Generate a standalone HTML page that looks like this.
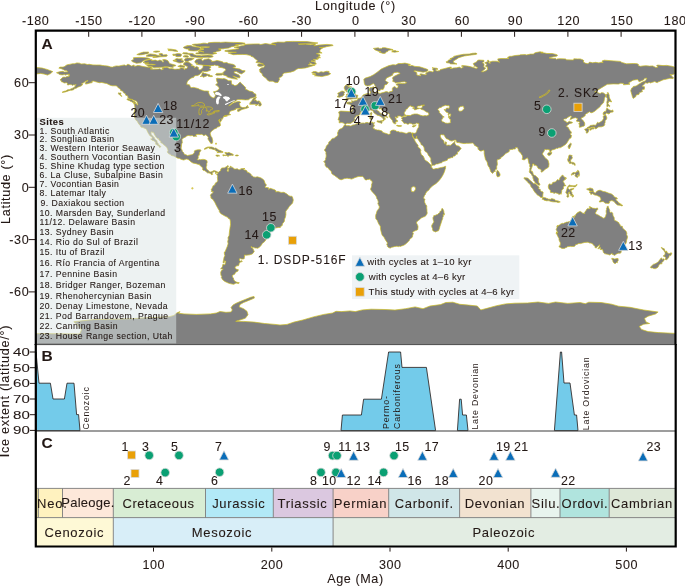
<!DOCTYPE html>
<html lang="en">
<head>
<meta charset="utf-8">
<title>Figure</title>
<style>
html,body{margin:0;padding:0;background:#fff;}
body{width:685px;height:586px;overflow:hidden;}
text{stroke:#231815;stroke-width:0.08px;}
svg{display:block;font-family:"Liberation Sans",sans-serif;fill:#231815;}
.land{fill:#808080;stroke:#ccbd22;stroke-width:0.7;stroke-linejoin:round;}
.water{fill:#fff;stroke:#ccbd22;stroke-width:0.7;stroke-linejoin:round;}
.lk{fill:none;stroke:#ccb926;stroke-width:0.75;stroke-linejoin:round;}
.blob{fill:#fff;stroke:none;}
.tk{stroke:#231815;stroke-width:1;fill:none;}
.ax{font-size:12.6px;letter-spacing:0.55px;}
.mk{font-size:12.4px;letter-spacing:0.4px;}
.big{font-size:12px;letter-spacing:0.9px;}
.site{font-size:8.7px;letter-spacing:0.43px;}
.lg{font-size:9.6px;letter-spacing:0.35px;}
.per{font-size:13px;letter-spacing:0.7px;text-anchor:middle;}
.rot{font-size:8.8px;letter-spacing:0.8px;stroke-width:0;}
.pl{font-size:15.5px;font-weight:bold;}
.tri{fill:#0a6db8;stroke:#d9d9d9;stroke-width:0.8;stroke-linejoin:miter;}
.cir{fill:#0aa073;stroke:#d9d9d9;stroke-width:0.8;}
.sq{fill:#e9a007;stroke:#d9d9d9;stroke-width:0.8;}
.ice{fill:#73cbea;stroke:#231815;stroke-width:0.8;stroke-linejoin:miter;}
.bd{stroke:#7a7a7a;stroke-width:0.9;fill:none;}
</style>
</head>
<body>
<svg width="685" height="586" viewBox="0 0 685 586">
<defs>
<clipPath id="mapclip"><rect x="35.8" y="30.6" width="639.6" height="314"/></clipPath>
</defs>
<rect x="0" y="0" width="685" height="586" fill="#fff"/>
<!-- map -->
<g clip-path="url(#mapclip)">
<path class="land" d="M56.5,72.7L59.4,71.8L62.9,71.3L64.3,72.0L67.9,71.8L66.5,70.6L64.3,70.3L63.1,69.4L61.3,68.7L58.8,68.1L59.9,67.1L63.1,67.1L65.2,66.3L65.8,65.4L67.5,64.7L69.3,64.4L72.7,63.7L74.3,63.8L76.9,62.9L79.6,63.2L81.0,64.0L84.7,63.8L87.4,64.5L89.2,64.3L92.9,64.9L96.3,65.0L100.0,65.0L102.7,65.5L104.6,65.7L108.0,66.1L110.8,67.0L112.6,67.1L114.2,66.4L116.3,65.9L119.0,66.1L121.7,65.4L124.5,64.9L125.7,65.6L127.0,65.2L127.5,64.3L128.8,64.5L131.6,66.1L134.1,64.9L134.3,66.3L136.4,65.9L137.1,65.5L139.2,65.6L142.1,66.3L146.2,67.0L148.6,67.3L150.4,67.1L152.7,68.0L150.2,68.9L153.4,69.2L158.2,69.1L159.8,68.7L161.6,69.8L163.6,68.9L161.8,68.2L162.8,67.6L165.2,67.5L166.6,67.3L168.0,67.7L169.8,68.7L171.7,68.5L174.9,69.3L177.6,69.1L180.2,69.1L179.9,68.0L181.5,67.7L184.3,68.4L184.3,69.9L185.4,68.5L186.8,68.5L187.7,66.8L185.7,65.7L183.6,65.0L183.8,63.1L185.9,61.9L188.2,62.1L190.0,63.0L192.5,64.9L190.9,65.7L194.3,66.1L194.3,67.8L196.6,66.4L198.7,67.7L198.2,68.9L199.9,70.1L201.7,68.9L203.0,67.3L203.1,65.4L205.6,65.6L208.3,65.7L210.6,66.6L210.8,67.5L209.3,68.5L210.6,69.4L210.4,70.3L207.0,71.5L204.6,71.7L202.6,71.1L202.1,72.0L200.5,73.6L199.9,74.3L197.8,75.5L195.3,75.7L193.9,76.4L193.7,77.4L191.8,77.8L189.5,79.2L187.7,81.1L187.0,82.5L186.8,84.6L189.5,84.8L190.2,86.5L191.1,87.7L193.6,87.4L196.9,88.2L198.7,88.8L199.9,89.6L202.1,90.2L204.0,90.9L206.9,91.0L208.8,91.2L208.6,92.6L209.2,94.3L210.4,96.3L213.1,98.0L214.5,97.5L215.4,95.6L214.5,92.9L213.3,91.9L216.1,91.2L218.0,90.0L219.1,88.8L218.9,87.5L217.7,86.1L215.6,84.8L217.7,82.9L216.8,81.3L216.3,78.6L217.5,78.2L220.5,78.6L222.3,78.8L223.9,78.5L225.5,79.0L227.6,80.0L228.2,80.7L231.4,80.7L231.4,82.3L231.9,84.4L233.5,84.8L234.9,85.8L237.4,84.8L239.2,82.8L240.2,82.1L241.7,83.7L244.0,85.8L245.9,87.9L245.2,89.1L247.5,90.0L249.1,91.0L251.9,91.6L253.2,92.1L253.9,93.5L255.1,93.8L255.9,94.3L256.0,96.4L254.8,97.0L253.5,97.7L250.5,98.2L248.4,99.8L245.4,99.9L241.5,99.6L238.8,99.6L237.0,99.8L235.6,101.0L233.3,101.7L230.8,104.1L228.7,105.7L230.1,105.3L233.1,103.1L236.9,101.7L239.3,101.5L240.9,102.4L239.3,103.4L239.9,105.3L240.4,106.7L242.7,107.6L245.7,107.3L247.5,105.3L247.7,106.6L248.8,107.3L246.6,108.3L242.7,109.3L240.9,110.0L238.8,111.4L237.6,111.3L237.4,109.7L240.6,108.3L237.8,108.3L235.8,108.6L236.0,109.2L234.2,110.0L232.2,110.6L230.5,111.1L229.6,112.1L229.2,113.5L229.8,114.4L230.7,114.6L229.6,114.9L227.3,115.3L225.5,115.4L224.1,116.0L226.7,115.6L227.3,116.0L224.8,116.5L223.5,116.5L223.0,118.1L222.0,119.5L220.9,118.4L221.6,119.6L221.6,120.3L221.1,121.0L220.2,122.4L220.0,122.2L220.5,121.2L219.6,120.5L219.5,119.1L219.1,119.8L219.5,120.9L218.2,120.7L219.5,121.2L219.5,122.8L220.0,122.9L220.2,123.6L220.5,125.4L219.3,126.6L217.5,127.1L216.4,128.2L214.5,128.9L212.4,130.6L211.3,131.5L210.6,132.5L210.2,133.8L210.6,135.0L211.1,136.4L212.0,137.6L212.7,140.4L212.7,142.3L212.2,143.4L210.8,143.4L209.9,142.1L209.0,140.7L208.1,139.3L207.9,138.6L208.3,137.6L207.8,136.5L206.3,135.2L205.6,134.8L203.8,135.7L202.6,134.7L201.5,134.3L199.6,134.5L198.0,134.3L195.9,134.6L196.2,135.9L196.6,136.4L195.5,136.2L193.6,136.5L192.3,135.5L190.7,135.8L188.4,135.5L186.8,135.9L185.2,137.2L183.4,137.9L182.0,139.5L182.2,141.6L182.5,142.1L181.8,143.7L181.5,144.9L181.3,147.4L181.1,148.2L182.0,150.0L182.4,151.4L183.6,152.6L184.0,153.6L184.7,154.5L186.6,154.9L187.3,155.7L188.9,155.2L191.6,154.7L192.7,154.3L193.7,153.6L194.3,152.6L194.4,151.2L194.6,150.7L195.9,150.2L197.8,149.8L200.5,149.8L200.8,150.2L200.8,150.9L199.8,151.9L199.4,153.1L199.4,154.2L199.1,155.4L198.2,155.0L198.5,155.7L198.2,156.6L198.3,157.7L197.8,158.9L197.1,159.6L198.3,159.9L199.4,159.6L200.7,159.7L202.2,159.4L204.0,159.4L205.1,159.7L206.9,160.6L207.3,161.1L207.0,161.7L207.2,162.4L206.7,163.6L206.7,165.7L206.3,166.5L206.2,167.9L206.9,169.2L207.6,169.9L208.5,170.6L209.0,171.6L210.4,172.0L211.3,171.8L213.1,171.1L213.6,170.6L214.7,170.7L216.3,171.3L217.7,172.1L217.3,172.5L216.1,172.8L215.7,173.3L216.1,174.2L215.7,172.7L214.5,171.6L213.6,171.8L213.3,172.3L212.2,172.8L212.0,173.2L212.9,174.2L211.3,174.7L210.9,173.7L209.9,173.2L207.9,172.8L207.6,173.0L206.5,172.0L204.7,170.6L203.8,170.6L202.8,170.0L202.6,169.2L202.8,167.9L201.4,166.7L200.1,165.5L199.2,164.8L199.6,164.1L198.9,164.4L197.8,164.3L196.4,163.8L195.0,163.4L193.0,163.1L191.2,162.0L189.1,160.1L188.1,159.4L186.8,159.0L185.8,159.2L184.4,159.8L183.4,160.0L180.9,159.2L179.4,158.3L177.9,158.2L176.0,157.3L174.4,156.5L174.0,156.1L173.0,155.9L171.2,155.4L170.5,154.6L168.5,153.6L167.6,152.5L167.3,151.7L167.8,151.5L167.6,151.0L168.0,150.5L168.0,150.0L167.5,149.1L167.3,148.4L166.8,147.5L165.2,145.8L163.4,144.6L162.5,143.4L160.9,142.7L160.7,142.3L160.9,141.3L160.0,140.7L158.9,139.9L158.6,138.6L157.5,138.6L156.5,137.6L155.7,136.7L155.6,136.2L154.7,135.0L154.0,133.6L154.1,132.9L152.7,132.2L152.2,132.4L151.1,131.8L151.0,132.5L151.1,133.4L151.3,134.6L153.8,137.2L154.1,137.8L154.4,137.8L154.7,138.8L155.2,139.3L155.7,139.9L156.8,140.7L157.3,142.5L157.9,143.2L158.4,144.0L158.4,144.9L159.3,144.9L160.0,145.8L160.7,146.5L160.7,146.8L159.9,147.5L159.6,147.5L159.1,146.5L158.0,145.4L156.6,144.6L155.7,144.2L155.8,142.8L155.6,142.0L154.7,141.4L153.4,140.6L153.3,140.9L152.8,140.4L151.7,140.0L150.7,139.0L150.8,138.8L151.5,139.0L152.2,138.3L152.2,137.4L151.0,136.2L149.9,135.7L149.2,134.6L148.5,133.6L147.8,132.2L147.0,130.6L146.7,129.7L145.6,128.7L144.7,128.5L144.6,128.0L143.5,127.8L143.0,127.4L141.2,127.2L140.8,127.0L140.7,125.9L138.9,124.2L137.5,121.8L137.5,121.4L136.7,120.9L135.3,119.4L135.0,117.9L134.1,117.0L134.4,115.6L134.4,114.1L133.9,112.7L134.6,111.1L135.0,107.9L134.6,105.5L134.1,104.1L133.6,103.2L133.7,102.9L136.4,103.5L137.3,105.2L137.8,104.6L137.5,103.2L136.9,101.8L136.6,101.3L133.2,100.1L132.0,99.4L128.8,98.7L127.7,97.1L128.0,96.1L125.7,95.2L125.4,93.8L123.3,92.6L123.3,91.7L122.2,91.0L120.6,90.5L120.2,88.9L117.9,87.5L116.9,86.0L115.3,85.8L112.4,85.8L110.3,85.3L106.6,83.5L105.0,83.2L101.8,82.5L99.4,82.7L95.9,81.8L93.8,81.1L91.8,81.4L92.2,82.7L91.1,82.8L89.2,83.2L87.6,83.7L85.6,84.1L85.3,83.2L86.2,81.4L88.1,80.9L87.6,80.4L85.3,81.4L84.0,82.6L81.5,83.8L82.8,84.6L81.2,85.9L79.2,86.7L77.5,87.2L76.9,87.9L74.3,88.8L73.7,89.7L71.6,90.3L70.4,90.3L68.8,90.7L67.0,91.4L65.5,91.9L62.4,92.4L62.2,92.1L64.2,91.3L65.8,90.9L67.7,89.8L69.8,89.6L70.8,88.9L73.2,87.9L73.6,87.5L75.0,86.8L75.2,85.6L76.2,84.6L74.1,85.1L73.6,84.8L72.6,85.5L71.4,84.6L70.9,85.1L70.2,84.3L68.4,84.9L67.4,84.9L67.3,83.9L67.5,83.4L66.5,82.7L64.2,83.0L62.6,82.1L61.4,81.8L61.4,80.8L60.1,80.0L60.8,79.0L62.2,78.1L62.7,77.2L64.2,77.1L65.5,77.3L66.8,76.6L68.2,76.6L69.5,76.0L69.2,75.3L68.2,75.0L69.5,74.3L68.4,74.3L66.6,74.6L66.0,75.2L64.7,74.6L62.1,74.9L59.5,74.5L58.7,73.8L56.5,72.7Z M217.7,172.1L218.6,172.3L219.8,171.1L220.5,170.9L220.9,168.8L222.0,167.9L223.0,167.9L224.6,167.8L226.7,166.4L227.5,165.7L228.2,165.7L228.7,166.2L228.3,166.7L227.2,167.1L227.8,168.2L227.8,169.2L227.0,170.0L227.6,171.5L228.3,171.4L228.8,170.1L228.3,169.5L228.2,168.2L230.3,167.4L230.1,166.6L230.8,166.0L231.4,167.2L232.6,167.4L233.8,168.3L233.8,168.9L235.4,169.0L237.4,168.8L238.3,169.5L239.7,169.7L240.8,169.2L240.8,168.8L242.9,168.6L245.0,168.6L243.6,169.2L244.1,169.9L245.6,170.1L247.0,170.9L247.2,172.3L248.1,172.3L248.8,172.7L250.0,173.3L251.1,174.5L251.2,175.4L251.8,175.4L252.8,176.3L253.5,176.9L255.6,177.2L257.2,176.8L259.1,177.3L261.0,177.9L263.0,179.3L263.8,180.0L264.3,180.9L265.3,184.0L266.2,184.3L266.2,185.5L264.9,187.0L265.4,187.4L268.6,187.7L268.6,189.5L270.1,188.3L272.2,188.9L275.2,190.0L276.1,191.0L275.7,192.0L277.9,191.5L281.2,192.4L283.9,192.3L286.6,193.8L288.9,195.7L290.2,196.2L291.7,196.3L292.4,196.8L293.0,199.0L293.3,200.0L292.6,203.0L291.7,204.1L289.1,206.6L288.0,208.6L286.7,210.0L285.8,211.4L285.9,214.7L285.4,217.3L284.6,219.1L284.3,221.5L282.5,223.7L282.2,225.6L280.8,226.3L280.4,227.4L278.5,227.4L275.6,228.0L274.4,228.8L272.4,229.3L270.3,230.7L268.8,232.4L268.6,233.7L268.9,234.7L268.5,236.5L268.1,237.3L266.9,238.3L264.9,241.3L263.3,242.7L262.1,243.5L261.4,245.2L260.2,246.2L259.4,247.3L257.5,248.3L256.1,247.9L255.1,248.1L253.5,247.3L252.3,247.4L251.2,246.4L251.1,247.3L253.4,248.9L253.1,250.0L254.2,250.8L254.1,251.7L252.4,253.9L249.8,254.8L246.3,255.2L244.3,255.0L244.7,256.0L244.3,257.4L244.6,258.2L243.5,258.9L241.7,259.1L240.1,258.5L239.3,258.9L239.6,260.7L240.8,261.2L241.7,260.6L242.3,261.5L240.6,262.1L239.2,263.2L238.9,264.9L238.5,265.8L236.9,265.8L235.4,266.7L234.9,268.0L236.7,269.3L238.4,269.7L237.8,271.2L235.7,272.2L234.6,274.3L232.9,275.0L232.2,275.8L232.8,277.6L233.9,278.6L233.5,278.9L233.8,279.6L234.6,281.1L236.9,282.3L239.3,282.7L238.6,283.6L236.0,283.0L233.9,284.3L232.1,284.1L228.9,283.3L226.6,282.3L224.8,281.4L222.4,279.5L221.9,278.4L221.3,277.3L221.8,276.3L220.9,275.2L220.7,272.2L221.5,270.5L223.3,269.2L220.6,268.7L222.3,267.1L222.9,264.2L224.9,264.8L225.8,261.2L224.6,260.8L224.1,262.9L223.0,262.7L223.5,260.2L224.1,257.0L224.9,255.8L224.4,254.1L224.3,252.1L225.0,252.0L226.1,249.2L227.3,246.4L228.1,243.8L227.7,241.2L228.2,239.8L228.0,237.6L229.1,235.5L229.4,232.1L229.9,228.5L230.5,224.6L230.4,221.8L230.0,219.3L228.2,218.3L228.1,217.6L224.5,215.8L221.3,213.9L220.0,212.8L219.3,211.4L219.5,210.9L218.0,208.6L216.3,205.4L214.6,201.9L213.9,201.1L213.3,199.8L211.9,198.7L210.7,198.0L211.2,197.2L210.4,195.6L210.9,194.3L212.4,193.2L213.3,191.9L212.9,191.2L212.2,192.0L211.2,191.2L211.6,190.7L211.2,189.1L211.9,188.9L212.2,187.8L212.9,186.7L212.7,186.0L213.7,185.6L214.9,184.9L214.7,184.4L215.3,184.2L215.3,183.3L215.7,182.7L216.6,182.6L217.3,181.5L218.0,180.6L217.3,180.2L217.7,179.2L217.3,177.6L217.7,177.1L217.4,175.6L216.7,174.7L216.9,173.9L217.5,174.0L217.8,173.5L217.4,172.4Z M344.4,124.9L345.7,125.0L346.7,125.7L348.5,125.6L350.3,125.9L351.0,126.0L352.8,125.0L354.7,124.7L355.8,124.0L357.5,123.5L360.5,123.2L363.4,123.0L364.3,123.3L366.0,122.6L367.9,122.6L368.6,123.0L369.8,122.9L371.8,122.2L373.0,122.4L373.0,123.3L374.5,122.6L374.6,122.9L373.7,123.8L373.7,124.6L374.3,125.0L374.1,126.6L372.9,127.5L373.3,128.4L374.2,128.4L374.6,129.2L375.3,129.5L377.4,130.1L378.1,130.0L379.6,130.3L382.0,131.0L382.8,132.5L384.4,132.9L386.9,133.7L388.8,134.5L389.6,134.1L390.5,133.3L390.1,131.9L390.6,131.1L391.9,130.3L393.1,130.0L395.5,130.4L396.2,131.2L397.3,131.5L399.1,131.7L399.6,132.2L401.9,132.2L403.6,132.7L405.4,133.2L406.2,133.5L407.6,132.9L408.3,132.4L409.9,132.3L411.1,132.5L411.6,133.4L412.0,132.8L412.8,133.1L412.4,134.6L412.3,135.2L412.9,137.2L414.1,139.0L415.4,141.8L416.1,142.7L416.7,143.6L418.2,145.6L417.9,145.9L418.0,147.0L420.0,148.6L420.3,148.9L420.9,150.6L420.5,151.0L420.8,152.8L421.4,154.8L422.1,155.3L423.1,155.9L424.1,157.9L424.6,159.5L425.6,160.4L428.0,162.0L429.0,163.0L429.9,164.0L430.5,164.6L431.4,165.2L431.8,165.7L431.7,166.4L430.7,166.8L431.5,167.3L432.1,167.6L432.4,168.4L433.2,169.1L434.1,169.1L435.8,168.6L437.7,168.4L439.3,167.9L440.1,167.8L440.8,167.5L441.8,167.4L443.2,167.1L444.1,166.9L444.9,166.3L445.6,166.3L445.7,166.8L445.5,167.8L445.5,168.7L445.1,169.4L444.6,171.3L443.8,173.2L442.7,175.4L441.1,178.0L439.6,179.9L437.5,182.3L435.8,183.7L433.1,185.5L431.5,186.8L429.5,188.9L429.1,189.8L428.7,190.2L427.5,190.9L427.0,191.7L426.4,191.8L426.1,193.0L425.5,193.7L425.2,194.9L424.5,195.5L423.7,197.6L423.8,198.6L424.9,199.2L425.0,199.7L424.5,200.7L424.6,201.3L424.5,202.1L425.1,203.2L425.8,204.9L426.5,205.3L426.8,206.1L426.7,207.8L426.9,209.3L427.0,212.1L427.3,212.9L426.8,214.2L426.1,215.4L424.9,216.5L423.3,217.1L421.3,218.0L419.3,219.8L418.6,220.2L417.4,221.4L416.7,221.8L416.5,223.1L417.3,224.4L417.7,225.4L417.7,225.9L418.0,225.8L418.0,227.5L417.7,228.4L418.1,228.7L417.8,229.4L417.1,230.0L415.6,230.6L413.5,231.5L412.7,232.2L412.9,232.9L413.3,233.0L413.2,233.9L412.7,235.2L412.5,236.7L412.1,237.4L410.8,238.3L409.7,239.5L409.3,240.4L408.3,241.6L406.3,243.4L405.0,244.5L403.6,245.3L401.8,245.9L400.9,246.0L400.7,246.5L399.6,246.2L398.7,246.6L396.8,246.2L395.7,246.5L395.0,246.4L393.1,247.0L391.6,247.3L390.5,248.0L389.7,248.0L389.0,247.4L388.4,247.4L387.6,246.6L387.3,246.4L387.3,245.3L386.7,244.2L387.3,243.9L387.2,242.5L386.1,240.9L385.2,239.4L383.9,237.1L382.6,235.8L381.9,234.5L381.5,232.9L381.1,231.6L380.5,228.9L380.4,226.8L380.2,225.9L379.5,225.1L378.6,223.7L377.7,221.6L377.3,220.5L375.8,218.8L375.7,217.5L375.6,216.4L375.8,214.8L376.4,213.3L376.5,212.5L377.1,210.9L377.5,210.2L378.5,209.1L379.1,208.3L379.3,207.0L379.2,206.0L378.7,205.4L378.2,204.3L377.8,203.3L377.9,202.9L378.4,202.2L377.9,200.6L377.5,199.4L376.6,198.3L376.8,197.9L376.5,197.4L376.0,196.1L374.6,194.2L372.8,192.5L371.6,191.0L370.5,189.2L370.6,188.7L371.0,188.1L371.4,186.8L371.7,185.5L371.4,185.3L372.0,183.3L372.3,181.9L371.6,180.8L370.8,180.5L370.4,179.7L370.0,179.5L370.0,179.0L368.1,179.6L367.5,179.5L366.8,179.9L365.4,179.9L364.4,178.8L363.8,177.5L362.6,176.4L361.2,176.4L359.7,176.4L358.2,176.6L356.8,177.0L354.0,178.0L353.0,178.6L351.4,179.1L349.8,178.6L349.0,178.6L347.8,178.3L346.6,178.3L344.6,178.6L343.3,179.1L341.6,179.7L340.8,179.7L338.9,178.9L337.3,177.6L335.8,176.6L334.6,175.5L334.1,175.3L332.8,174.6L331.9,173.7L331.6,173.1L331.4,171.8L330.6,170.7L329.9,170.1L329.0,169.5L328.8,168.7L328.0,168.0L327.1,167.3L326.3,167.2L325.9,166.4L325.3,165.7L325.0,164.4L325.2,163.6L324.5,162.2L323.6,161.6L324.4,161.3L325.3,160.1L325.7,159.2L325.5,158.2L326.0,157.4L326.2,155.7L326.0,154.0L325.8,153.1L326.0,152.3L325.5,151.4L324.6,150.7L324.7,149.9L324.8,149.1L325.5,148.7L326.0,147.7L325.9,147.2L326.5,145.9L327.5,144.8L328.1,144.5L328.6,143.5L328.6,142.6L329.3,141.5L330.5,140.9L331.6,139.1L332.5,138.4L334.2,138.2L335.6,137.0L336.4,136.5L337.9,135.1L337.5,132.9L338.2,131.4L338.4,130.5L339.5,129.3L341.3,128.5L342.6,127.8L343.8,126.0Z M442.8,209.0L443.3,209.8L443.8,210.9L444.0,213.0L444.5,213.9L444.3,214.7L444.0,215.2L443.4,214.2L443.1,214.7L443.4,216.0L443.2,216.7L442.8,217.1L442.7,218.6L441.9,220.6L441.1,223.1L440.0,226.3L439.3,228.8L438.5,230.8L437.0,231.2L435.5,231.9L434.5,231.5L433.1,230.9L432.6,230.0L432.5,228.4L431.8,227.0L431.7,225.8L432.0,224.5L432.8,224.2L432.8,223.6L433.7,222.3L433.8,221.2L433.4,220.4L433.1,219.3L432.9,217.7L433.6,216.7L433.8,215.6L434.7,215.5L435.7,215.2L436.3,214.8L437.1,214.8L438.1,213.8L439.6,212.7L440.1,211.9L439.9,211.1L440.6,211.3L441.6,210.1L441.6,209.1L442.2,208.3Z M345.0,124.5L343.7,123.1L341.8,122.6L339.1,122.8L339.3,120.3L338.0,119.8L339.3,116.1L339.3,114.2L338.6,112.1L340.7,111.1L345.1,111.3L348.7,111.5L351.7,111.6L352.6,109.5L352.9,107.1L351.0,105.2L349.8,104.3L346.9,103.7L346.7,102.5L349.2,102.1L352.1,102.5L351.5,100.6L353.1,101.2L355.3,100.6L357.6,99.9L357.7,98.5L359.3,98.2L361.5,97.7L362.0,96.6L363.2,94.9L365.7,94.0L367.5,93.6L369.3,94.0L370.5,93.1L370.2,91.6L369.3,90.5L369.3,88.8L370.0,87.7L371.6,87.5L373.7,86.7L373.2,88.1L374.2,88.9L372.6,90.5L372.5,91.6L374.4,92.4L374.6,93.1L377.1,92.4L379.0,92.9L379.9,93.5L381.2,93.0L384.0,92.3L386.1,91.6L387.9,91.9L388.6,92.4L390.2,91.6L392.7,91.0L392.3,89.6L392.4,88.2L393.2,87.2L394.8,86.6L396.3,87.9L397.7,87.9L398.0,86.5L398.2,85.5L396.4,85.1L396.3,84.1L398.6,83.5L400.9,83.4L402.6,83.6L404.6,83.5L406.6,82.7L404.8,81.8L401.6,82.0L398.4,82.6L395.5,82.9L394.5,82.0L392.7,81.4L393.1,79.7L392.4,78.1L393.1,77.1L394.7,76.0L398.7,74.1L400.0,73.8L399.8,73.1L397.3,72.2L394.3,72.7L392.5,73.9L392.9,75.0L390.0,76.4L386.6,77.9L385.3,80.4L386.5,81.6L388.3,82.5L386.7,84.5L384.7,84.9L384.0,87.9L383.1,89.5L381.0,89.3L379.9,90.7L377.8,90.7L377.3,89.1L375.8,87.2L374.4,84.6L373.4,83.5L369.8,85.6L367.3,86.0L365.0,85.1L364.3,83.2L363.8,79.2L365.4,78.1L370.1,76.6L373.5,74.8L376.9,72.4L381.2,69.1L384.0,67.7L389.0,65.6L392.9,64.7L395.7,64.9L398.4,63.5L401.8,63.5L405.0,63.1L410.5,64.4L408.1,64.9L410.1,65.9L411.9,65.4L414.9,66.4L419.7,66.8L426.4,68.9L427.9,69.6L427.9,70.8L425.9,71.7L423.1,72.2L415.1,70.8L413.8,71.1L416.7,72.4L416.8,73.2L416.8,75.0L419.2,75.5L420.6,75.9L420.8,75.2L419.7,74.3L420.9,73.8L425.2,74.8L426.6,74.3L425.5,73.1L429.6,71.3L431.2,71.5L432.8,72.0L433.9,70.8L432.5,69.8L433.4,68.8L432.0,67.7L437.0,68.3L438.0,69.2L435.8,69.4L435.8,70.5L437.2,71.0L439.9,70.6L440.3,69.6L444.0,68.7L450.2,67.1L451.6,67.3L449.9,68.4L452.0,68.5L453.2,68.0L456.6,67.8L459.3,67.1L461.2,68.2L463.4,67.1L461.4,66.1L462.4,65.5L467.6,66.1L470.1,66.6L476.5,68.5L477.7,67.7L476.0,66.8L475.8,66.3L473.6,66.2L474.4,65.4L473.3,64.0L473.3,63.5L476.5,61.9L477.7,60.3L479.0,60.0L483.8,60.3L484.1,61.4L482.3,62.8L483.6,63.3L484.1,64.5L483.8,67.0L485.7,68.0L484.8,69.2L481.5,71.7L483.4,71.8L484.1,71.3L486.1,70.8L486.6,69.9L488.1,69.1L487.1,68.2L487.8,67.0L485.9,66.8L485.5,65.9L487.0,64.2L484.7,62.8L487.8,61.6L487.5,60.3L488.4,60.2L489.3,61.2L488.6,63.0L490.5,63.2L489.6,61.9L492.6,61.2L496.3,61.2L499.6,62.2L498.0,60.7L497.8,58.9L500.9,58.5L505.2,58.6L509.0,58.4L507.5,57.4L509.7,56.3L511.6,56.3L515.2,55.5L519.8,55.1L520.3,54.8L525.1,54.6L526.5,54.9L530.4,54.1L533.8,54.1L534.2,53.2L535.9,52.5L540.1,51.8L543.2,52.3L540.7,52.8L544.8,53.0L546.9,53.5L552.1,53.5L556.0,54.4L557.4,55.0L557.1,56.0L555.1,56.5L550.4,57.4L549.1,57.9L551.2,58.2L553.9,58.6L555.5,58.2L556.4,59.5L557.2,58.9L560.1,58.7L565.8,58.9L566.1,59.8L573.6,60.0L573.8,58.8L577.5,58.9L580.3,58.9L583.2,60.0L584.0,61.0L583.0,61.7L585.1,63.1L588.0,63.8L589.6,62.1L592.6,62.8L595.6,62.3L599.0,62.9L600.2,62.4L603.2,62.6L601.9,61.0L604.3,60.2L620.3,61.4L621.8,62.4L626.5,63.8L633.6,63.5L637.1,63.7L638.5,64.4L638.4,65.7L640.5,66.3L643.0,65.9L646.1,65.7L649.4,66.1L652.7,65.9L655.9,67.5L658.1,67.0L656.6,65.8L657.4,65.0L663.0,65.6L666.8,65.4L671.9,66.3L674.4,67.0L674.4,73.9L672.1,74.8L669.8,74.6L671.4,75.5L672.4,77.0L673.3,77.4L673.5,78.1L673.0,78.6L669.8,78.3L664.8,79.5L663.2,79.8L660.5,81.0L657.9,82.1L657.2,82.8L654.7,81.6L650.1,83.0L649.2,82.3L647.6,83.2L645.1,82.8L644.6,84.1L642.4,85.8L642.5,86.5L644.6,86.8L644.3,89.3L642.6,89.5L641.9,90.9L642.6,91.6L639.6,92.6L638.9,94.5L636.2,94.9L635.7,96.8L633.2,98.4L632.5,97.1L631.8,94.5L630.7,90.7L631.6,88.2L633.2,87.2L633.2,86.5L636.1,86.0L639.2,83.9L642.3,82.1L645.5,80.7L646.9,78.2L644.7,78.3L643.6,79.9L639.1,81.8L637.7,79.5L633.0,80.2L628.6,83.0L630.0,84.2L626.1,84.6L623.5,84.8L623.5,83.5L620.8,83.2L618.5,84.1L613.2,83.9L607.3,84.3L601.6,87.7L594.7,91.9L597.5,92.1L598.4,93.1L600.2,93.5L601.3,92.7L603.2,92.8L605.8,94.7L605.9,96.3L604.5,98.0L604.3,100.0L603.5,102.8L600.8,105.3L600.2,106.6L594.3,111.6L591.9,112.7L590.8,112.7L589.7,111.8L587.2,113.1L587.1,113.7L586.4,113.5L585.6,114.2L585.1,114.7L585.1,116.0L584.2,116.3L583.2,117.2L581.2,117.9L581.2,118.8L581.7,119.2L582.7,120.0L584.2,122.1L584.7,123.1L584.7,125.2L584.1,126.1L582.5,126.4L581.0,127.1L579.4,127.3L579.3,126.4L579.5,125.0L578.7,123.3L580.1,122.9L578.9,121.5L577.3,121.6L576.2,120.9L577.1,119.9L577.5,118.6L576.2,118.1L575.5,117.7L573.0,118.2L571.7,119.0L569.8,119.5L570.7,118.7L570.3,118.0L571.8,116.8L570.8,115.9L569.3,116.5L567.3,117.7L566.2,118.8L564.4,118.9L563.5,119.7L564.5,120.9L565.9,121.2L566.0,122.0L567.4,122.5L569.4,121.3L570.9,121.9L572.1,122.0L572.4,122.9L569.9,123.4L569.0,124.3L567.3,125.2L566.4,126.4L568.3,127.4L569.0,129.1L570.1,130.7L571.3,132.0L571.3,133.3L570.1,133.8L570.6,134.7L571.6,135.3L571.3,136.7L570.9,138.1L569.9,138.2L568.6,140.1L567.2,142.4L565.5,144.5L563.1,146.1L560.6,147.6L558.6,147.8L557.5,148.5L556.9,148.0L555.9,148.8L553.4,149.7L551.6,150.0L550.9,151.8L550.0,151.9L549.5,150.7L549.9,150.0L547.5,149.4L546.7,149.7L544.9,149.3L544.1,151.2L542.8,152.9L542.4,154.1L543.8,155.9L545.5,158.2L547.1,159.3L548.2,160.7L549.0,163.9L548.7,166.9L547.3,168.1L545.2,169.2L543.8,170.7L541.6,172.3L540.9,171.2L541.4,170.0L540.1,169.0L538.6,168.8L537.9,167.9L537.0,166.0L535.4,165.2L533.9,165.3L534.1,163.9L532.6,163.9L532.4,165.8L531.5,168.4L530.9,169.9L531.0,171.2L532.2,171.2L532.9,172.8L533.2,174.3L534.2,175.3L535.3,175.5L536.2,176.5L537.7,177.7L538.4,178.8L538.5,180.0L538.3,180.8L538.6,182.4L539.2,182.9L539.9,184.5L539.9,185.1L538.6,185.2L537.0,183.9L534.9,182.5L534.7,181.6L533.6,180.4L533.4,179.0L532.8,178.0L533.0,176.8L532.6,176.0L531.8,175.4L531.5,174.5L530.6,173.5L529.7,172.7L529.3,171.7L529.8,170.0L529.7,168.7L530.2,167.3L529.6,166.3L529.8,164.4L529.0,163.5L528.5,161.4L528.1,159.2L527.4,157.8L526.2,158.6L524.2,159.9L523.2,159.7L522.1,159.3L522.7,157.2L522.3,155.5L520.9,153.5L521.1,152.9L520.1,152.7L518.9,151.3L518.3,150.3L518.3,149.5L517.9,148.6L517.2,147.6L515.5,147.5L515.7,148.3L515.1,149.2L514.4,148.9L513.6,149.0L512.9,148.8L512.7,149.5L511.5,149.5L509.3,149.8L509.4,151.1L508.4,152.2L505.9,153.3L503.9,155.4L502.6,156.5L500.8,157.6L500.8,158.4L499.9,158.9L498.3,159.5L497.5,159.6L497.0,160.9L497.3,163.2L497.4,164.6L496.7,166.3L496.7,169.2L495.7,169.3L494.9,170.6L495.5,171.2L493.8,171.7L493.2,172.9L492.5,173.4L490.8,171.8L490.0,169.3L489.4,167.6L488.7,166.8L487.8,165.1L487.4,162.9L487.0,161.8L485.4,159.4L484.7,156.0L484.2,153.8L484.2,151.7L483.8,150.0L481.2,151.1L480.0,150.9L477.7,148.8L478.5,148.1L478.0,147.5L475.9,146.0L474.6,145.5L474.1,144.3L472.7,143.0L469.4,143.3L466.6,143.3L464.1,143.6L460.7,143.0L458.8,142.6L456.8,142.4L456.0,140.3L455.2,140.0L453.8,140.3L452.0,141.1L449.8,140.5L448.1,139.2L446.3,138.7L445.2,137.1L443.9,134.7L442.9,135.0L441.8,134.4L441.1,135.1L440.0,135.0L440.4,135.8L440.3,136.2L440.8,137.5L441.5,139.0L442.4,139.4L442.7,140.0L443.9,140.8L444.0,141.5L443.8,142.1L444.1,142.6L444.6,143.1L444.8,143.7L445.1,144.1L445.0,142.9L445.4,141.9L445.9,141.8L446.5,142.3L446.5,143.3L446.1,144.3L446.5,145.0L446.8,145.4L448.2,145.1L449.7,145.2L450.8,145.2L452.0,144.0L453.3,142.9L454.4,141.9L454.9,141.3L455.2,141.4L455.0,142.1L454.8,142.5L455.0,143.8L455.8,145.0L456.8,145.7L458.1,145.9L459.1,146.2L459.9,147.2L460.4,147.8L461.1,148.0L461.1,148.4L460.4,149.4L460.1,149.9L459.4,150.5L458.7,151.7L457.9,151.6L457.5,152.0L457.3,152.9L457.5,154.0L457.3,154.3L456.5,154.3L455.4,154.9L455.2,155.8L454.8,156.1L453.7,156.1L453.0,156.6L453.0,157.3L452.2,157.7L451.2,157.6L450.0,158.2L449.2,158.3L447.9,158.7L447.5,159.5L447.5,160.1L445.7,160.8L442.9,161.6L441.3,162.9L440.5,163.0L440.0,162.9L438.9,163.6L437.8,163.9L436.3,164.0L435.9,164.1L435.5,164.6L435.0,164.7L434.8,165.2L433.9,165.1L433.3,165.3L432.1,165.3L431.6,164.2L431.7,163.3L431.4,162.8L431.0,161.5L430.5,160.8L430.9,160.7L430.7,159.9L430.9,159.6L430.8,158.8L430.6,158.1L430.1,157.5L429.9,156.8L429.0,156.2L428.1,154.7L427.6,153.3L426.3,152.1L425.5,151.8L424.4,150.2L424.2,148.9L424.2,147.9L423.2,146.0L422.4,145.3L421.4,144.9L420.8,143.9L420.9,143.6L420.5,142.7L419.9,142.3L419.2,141.0L418.2,139.5L417.3,138.4L416.4,138.4L416.7,137.4L416.7,136.8L417.0,136.1L416.9,135.9L416.4,136.5L416.0,137.9L415.5,138.8L415.1,139.1L414.5,138.5L413.7,137.7L412.4,135.2L412.4,134.6L412.8,133.1L414.8,133.3L415.7,132.9L416.2,132.3L416.6,131.4L417.0,130.0L417.2,129.6L417.9,128.2L418.8,126.9L418.6,125.5L419.1,124.8L418.4,124.0L419.1,123.4L418.0,123.5L416.5,123.1L415.3,124.1L412.6,124.3L411.2,123.4L409.3,123.3L408.8,124.1L407.6,124.3L405.9,123.3L404.0,123.4L402.9,121.6L401.6,120.7L402.5,119.3L401.4,118.5L403.3,116.8L406.1,116.7L406.8,115.4L410.2,115.6L412.3,114.5L414.4,114.0L417.3,114.0L420.4,115.2L423.0,115.9L425.0,115.6L426.6,115.8L428.7,114.9L428.9,114.1L428.5,112.9L427.5,112.3L426.5,112.1L425.8,111.6L423.6,110.1L421.5,109.4L420.0,108.4L421.3,108.1L422.8,106.7L421.8,106.0L424.4,105.3L424.3,104.9L422.7,105.2L421.3,105.3L420.1,105.9L418.5,105.9L417.0,106.6L417.1,107.7L417.9,108.1L419.7,108.0L419.4,108.6L417.5,108.9L415.0,109.9L414.1,109.6L414.5,108.8L412.5,108.2L412.8,107.9L414.5,107.3L414.0,106.9L411.2,106.5L411.1,105.8L409.5,106.1L408.8,107.0L407.4,108.3L407.5,108.8L406.6,109.1L406.1,109.0L405.6,111.1L404.7,111.8L404.0,113.0L404.6,114.0L404.8,114.7L406.4,115.3L406.0,115.7L403.9,115.8L403.2,116.3L401.7,117.3L401.1,116.5L401.2,116.1L400.1,116.1L399.2,115.9L397.0,116.3L398.2,117.3L397.3,117.6L396.3,117.6L395.4,116.7L395.1,117.1L395.5,118.1L396.3,119.0L395.7,119.3L396.7,120.1L397.6,120.6L397.6,121.6L395.9,121.2L396.5,122.1L395.3,122.2L396.0,123.8L394.8,123.8L393.4,123.1L392.7,121.7L392.4,120.5L391.7,119.7L390.8,118.7L390.7,118.2L390.4,118.1L390.3,117.7L389.4,117.1L389.2,116.3L389.3,115.1L389.6,114.5L389.3,114.3L388.4,113.6L387.6,113.2L386.0,112.6L385.0,111.9L383.3,111.4L381.8,110.1L382.2,110.0L381.4,109.3L381.3,108.7L380.2,108.4L379.7,109.2L379.1,108.6L379.2,108.0L379.6,107.8L378.2,107.5L376.8,108.2L376.9,109.0L376.7,109.5L377.2,110.4L378.9,111.3L379.8,112.7L381.8,114.1L383.2,114.1L383.6,114.5L383.1,114.9L384.7,115.5L386.0,116.0L387.5,116.9L387.7,117.2L387.4,117.9L386.4,117.1L384.8,116.8L384.1,117.9L385.4,118.6L385.2,119.5L384.4,119.6L383.5,121.0L382.7,121.2L382.7,120.7L383.1,119.7L383.5,119.4L382.8,118.3L382.3,117.5L381.5,117.2L381.0,116.5L379.9,116.2L379.1,115.5L377.8,115.4L376.4,114.6L374.8,113.4L373.6,112.4L373.0,110.7L372.1,110.5L370.7,109.9L369.9,110.2L368.8,111.0L368.1,111.1L366.5,112.1L363.0,111.6L360.4,112.2L360.2,113.2L360.3,114.2L358.6,115.4L356.3,115.8L356.2,116.4L355.1,117.3L354.4,118.7L355.1,119.7L354.1,120.5L353.7,121.7L352.3,122.0L351.1,123.3L348.8,123.4L347.1,123.3L346.0,124.0L345.4,124.6Z M609.7,211.3L610.4,212.7L611.5,212.0L612.1,212.7L612.9,213.4L612.8,214.2L613.1,215.7L613.4,216.6L613.9,216.8L614.3,218.3L614.2,219.2L614.7,220.4L616.7,221.3L617.9,222.1L619.1,222.9L618.9,223.3L619.9,224.4L620.6,226.3L621.3,225.9L622.0,226.6L622.4,226.4L622.7,228.2L624.0,229.3L624.8,230.0L626.2,231.4L626.7,232.8L626.8,233.8L626.6,234.8L627.5,236.3L627.4,237.9L627.1,238.7L626.6,240.2L626.6,241.2L626.3,242.5L625.5,244.1L624.2,244.9L623.5,246.3L622.9,247.1L622.4,248.6L621.7,249.5L621.3,250.8L621.1,252.0L621.1,252.6L620.1,253.2L618.1,253.2L616.5,254.0L615.7,254.6L614.6,255.4L613.1,254.6L612.1,254.3L612.3,253.4L611.4,253.7L609.8,255.0L608.3,254.5L607.3,254.2L606.3,254.1L604.5,253.6L603.4,252.5L603.1,251.2L602.6,249.6L601.8,249.6L600.1,249.4L600.6,248.6L600.2,247.3L599.4,248.5L597.8,248.8L598.7,247.8L599.0,246.8L599.7,246.0L599.5,244.7L598.1,246.2L597.0,246.8L596.3,248.1L594.9,247.4L595.0,246.5L593.8,245.2L592.9,244.6L593.2,244.2L591.0,243.1L589.7,243.1L588.0,242.2L584.8,242.4L582.5,243.0L580.5,243.6L578.8,243.5L576.9,244.4L575.4,244.8L575.1,245.7L574.4,246.4L572.9,246.4L571.8,246.6L570.2,246.3L568.9,246.5L567.7,246.6L566.7,247.5L566.1,247.4L565.3,247.9L564.4,248.4L563.1,248.4L561.9,248.4L560.0,247.3L559.1,246.9L559.1,245.9L560.0,245.7L560.3,245.3L560.2,244.7L560.4,243.5L560.2,242.4L559.3,240.7L559.0,239.7L559.1,238.7L558.4,237.5L558.4,237.0L557.6,236.3L557.3,235.0L556.3,233.6L556.1,232.9L556.9,233.6L556.3,232.0L557.1,232.5L557.7,233.2L557.6,232.3L556.8,230.9L556.6,230.3L556.2,229.8L556.4,228.8L556.7,228.4L557.0,227.5L556.8,226.5L557.5,225.2L557.7,226.6L558.4,225.4L559.8,224.8L560.7,224.0L562.1,223.4L562.9,223.3L563.4,223.5L564.8,222.8L565.8,222.6L566.1,222.2L566.6,222.1L567.6,222.1L569.4,221.6L570.4,220.9L570.8,219.9L571.9,219.0L572.0,218.3L572.0,217.4L573.2,215.9L574.0,217.4L574.8,217.1L574.1,216.3L574.7,215.4L575.5,215.8L575.7,214.5L576.7,213.6L577.1,212.9L578.0,212.6L578.0,212.1L578.8,212.3L578.8,211.9L579.6,211.6L580.4,211.4L581.7,212.2L582.7,213.2L583.9,213.3L585.0,213.4L584.6,212.4L585.5,211.1L586.3,210.6L586.0,210.2L586.8,209.2L587.8,208.5L588.7,208.8L590.2,208.4L590.2,207.5L588.9,207.0L589.8,206.7L591.0,207.1L592.0,207.9L593.4,208.3L594.0,208.1L595.1,208.7L596.1,208.2L596.8,208.3L597.2,208.0L598.0,208.8L597.5,209.8L596.9,210.5L596.2,210.5L596.4,211.2L595.9,212.1L595.3,213.0L595.4,213.5L596.8,214.4L598.2,215.0L599.1,215.6L600.4,216.6L600.9,216.6L601.8,217.1L602.1,217.6L603.8,218.2L605.0,217.6L605.3,216.7L605.7,215.9L605.9,214.9L606.4,213.5L606.2,212.7L606.3,212.2L606.1,211.2L606.3,209.9L606.7,209.5L606.4,208.9L606.8,208.0L607.2,207.1L607.2,206.6L607.9,205.9L608.4,206.8L608.5,207.8L608.9,208.1L609.0,208.8L609.6,209.7L609.8,210.7Z M613.0,258.4L614.7,259.0L615.7,258.8L617.0,258.5L618.1,258.6L618.2,260.7L617.6,261.3L617.4,262.7L616.8,262.2L615.6,263.4L614.1,263.3L613.0,261.8L612.8,260.6L611.8,259.1L611.8,258.3Z M662.0,258.7L662.4,259.4L663.7,258.7L664.2,259.4L664.2,260.1L663.5,260.9L662.4,262.2L661.5,262.9L662.1,263.8L660.8,263.8L659.2,264.5L658.8,265.6L657.8,267.4L656.3,268.2L655.5,268.6L653.8,268.6L652.7,268.0L650.8,267.9L650.5,267.3L651.4,266.0L653.6,264.2L654.8,263.9L656.1,263.3L657.6,262.3L658.7,261.4L659.4,260.1L660.1,259.7L660.4,258.7L661.6,257.9Z M668.9,257.2L668.2,258.1L667.3,259.3L666.0,260.0L665.6,259.6L664.9,259.3L665.9,257.9L665.3,256.9L663.4,256.2L663.5,255.6L664.8,255.0L665.1,253.6L665.0,252.5L664.3,251.3L664.3,251.0L663.5,250.3L662.1,248.8L661.3,247.5L662.0,247.4L663.0,248.4L664.3,248.8L664.8,250.4L666.1,252.2L666.2,251.0L667.0,251.5L667.2,252.8L668.6,253.4L669.9,253.5L670.9,252.8L671.8,253.0L671.3,254.6L670.8,255.6L669.4,255.6L669.0,256.1L669.1,256.9Z M593.0,189.3L593.5,192.1L595.3,193.2L596.8,191.3L598.9,190.3L600.4,190.3L601.9,190.9L603.3,191.5L605.2,191.8L608.3,193.0L611.5,194.0L612.8,194.9L613.7,195.8L614.0,196.8L617.0,197.9L617.4,198.8L615.8,199.0L616.2,200.2L617.7,201.3L618.9,203.2L619.9,203.1L619.9,203.9L621.2,204.2L620.7,204.5L622.6,205.2L622.4,205.8L621.2,205.9L620.8,205.4L619.2,205.2L617.4,205.0L616.1,203.9L615.1,202.9L614.1,201.4L611.8,200.6L610.3,201.1L609.2,201.7L609.5,203.0L608.1,203.6L607.1,203.3L605.2,203.2L603.6,201.8L601.9,201.4L601.4,201.9L599.2,202.0L599.9,200.6L601.0,200.1L600.6,198.2L599.7,196.7L596.3,195.2L594.8,195.1L592.1,193.5L591.6,194.3L590.9,194.5L590.5,193.8L590.5,193.1L589.2,192.2L591.1,191.6L592.4,191.6L592.2,191.2L589.6,191.2L588.9,190.1L587.3,189.8L586.6,188.9L589.0,188.5L589.9,187.9L592.7,188.7Z M564.1,180.1L563.1,181.7L564.4,183.3L564.1,184.1L566.1,185.7L564.0,185.9L563.4,187.1L563.5,188.7L561.8,189.9L561.7,191.6L561.1,194.3L560.8,193.7L558.8,194.5L558.1,193.4L556.8,193.3L555.9,192.7L553.8,193.4L553.2,192.5L552.0,192.6L550.5,192.4L550.3,190.1L549.4,189.6L548.5,188.1L548.3,186.6L548.5,185.0L549.5,183.8L550.9,184.4L552.2,184.1L552.6,182.6L553.3,182.3L555.5,181.9L556.7,180.5L557.6,179.4L558.4,180.3L558.8,179.7L559.6,179.8L559.8,177.8L561.2,176.6L562.1,175.2L562.8,175.2L563.7,176.1L563.8,176.9L565.0,177.3L566.4,177.9L566.3,178.5L565.1,178.6L565.5,179.5Z M524.0,177.7L525.2,177.8L527.9,178.1L529.5,179.9L530.9,181.0L531.8,181.8L533.5,183.6L535.3,183.7L536.8,184.9L537.9,186.3L539.2,187.1L538.5,188.5L539.5,189.1L540.2,189.2L540.5,190.4L541.1,191.4L542.4,191.5L543.2,192.6L542.8,194.8L542.7,197.5L540.8,197.5L539.3,196.1L537.0,194.7L536.2,193.6L534.9,192.2L534.0,190.9L532.6,188.4L531.1,187.0L530.6,185.5L529.9,184.1L528.3,183.0L527.4,181.5L526.0,180.6L524.2,178.6Z M542.0,199.2L543.1,197.6L545.3,197.7L546.7,198.4L547.5,198.5L547.7,199.1L551.1,199.3L551.5,198.6L554.8,199.4L555.4,200.5L558.1,200.9L560.3,201.9L558.2,202.6L556.3,201.9L554.7,201.9L552.8,201.8L551.2,201.5L549.1,200.8L547.8,200.6L547.1,200.9L543.8,200.1L543.5,199.4Z M577.2,184.8L575.8,186.6L574.4,186.9L572.7,186.6L569.8,186.6L568.2,186.9L568.0,188.2L569.6,189.8L570.5,189.0L573.8,188.4L573.7,189.2L572.9,188.9L572.1,190.0L570.6,190.6L572.2,192.9L571.9,193.5L573.5,195.5L573.5,196.6L572.6,197.1L571.9,196.5L572.7,195.1L571.0,195.8L570.5,195.3L570.8,194.6L569.5,193.6L569.6,191.9L568.5,192.4L568.6,194.5L568.7,196.9L567.5,197.2L566.8,196.7L567.3,195.1L567.0,193.4L566.3,193.4L565.7,192.2L566.4,191.0L566.7,189.7L567.6,187.0L568.0,186.3L569.5,185.0L570.9,185.5L573.1,185.8L575.1,185.7L576.9,184.4Z M570.2,155.0L571.3,155.5L571.9,155.1L572.1,155.5L571.8,156.2L572.4,157.5L571.9,158.9L570.8,159.5L570.6,160.9L571.0,162.3L571.9,162.5L572.7,162.3L574.9,163.3L574.8,164.2L575.3,164.6L575.1,165.4L573.8,164.6L573.1,163.7L572.6,164.3L571.5,163.3L569.9,163.5L569.0,163.1L569.1,162.4L569.7,162.0L569.1,161.6L568.9,162.2L568.0,161.2L567.8,160.4L567.7,158.8L568.4,159.3L568.6,156.6L569.2,155.0Z M579.2,172.6L579.4,173.8L579.5,174.8L578.9,176.4L578.2,174.6L577.4,175.5L578.0,176.7L577.5,177.6L575.4,176.6L574.9,175.3L575.4,174.5L574.3,173.6L573.8,174.4L572.9,174.3L571.6,175.3L571.3,174.8L572.0,173.3L573.1,172.8L574.1,172.1L574.7,172.9L576.1,172.5L576.3,171.7L577.6,171.6L577.5,170.3L578.9,171.1L579.1,172.0Z M571.1,144.8L570.0,147.6L569.2,149.0L568.3,147.5L568.1,146.2L569.1,144.5L570.6,143.2L571.4,143.7Z M550.8,154.7L549.2,155.6L547.8,155.0L547.7,153.5L548.6,152.7L550.5,152.2L551.6,152.3L551.9,152.9Z M500.1,174.2L499.8,176.0L499.1,176.5L497.5,176.9L496.7,175.5L496.4,173.0L497.2,170.2L498.4,171.1L499.2,172.4Z M605.1,122.5L604.5,123.9L604.8,124.8L603.8,126.0L601.6,126.8L598.5,126.9L595.9,128.9L594.7,128.3L594.7,127.0L591.6,127.3L589.5,128.2L587.4,128.2L589.2,129.5L588.0,132.5L586.9,133.2L586.0,132.5L586.4,130.9L585.3,130.4L584.6,129.2L586.3,128.7L587.2,127.6L589.0,126.7L590.3,125.5L593.8,125.0L595.7,125.3L597.6,122.2L598.8,123.1L601.4,121.3L602.4,120.6L603.5,118.5L603.2,116.6L604.0,115.4L605.8,115.1L606.8,117.6L606.7,119.0L605.1,120.7Z M593.9,127.7L594.1,128.3L593.1,129.4L592.4,128.8L591.5,129.2L591.0,130.3L589.8,129.8L589.9,128.9L590.8,127.9L591.8,128.1L592.6,127.4Z M610.3,110.3L611.6,110.6L612.8,109.9L613.2,111.9L610.6,112.3L609.0,114.1L606.3,112.9L605.3,114.8L603.3,114.8L603.1,113.1L604.0,111.7L605.8,111.6L606.4,109.2L606.9,107.9L609.0,109.7Z M609.9,98.8L611.7,101.9L609.0,101.3L607.9,103.8L609.7,105.6L609.6,106.8L608.3,105.8L607.1,107.1L606.8,105.7L607.0,104.0L606.8,102.1L607.2,100.8L607.3,98.4L606.2,96.7L606.4,94.3L608.0,93.5L607.3,92.7L608.1,92.5L608.6,93.6L609.2,95.3L609.2,97.0Z M349.6,85.0L347.7,86.9L349.5,86.7L351.4,86.7L351.0,88.1L349.4,89.7L351.2,89.8L352.9,92.0L354.1,92.3L355.2,94.3L355.7,95.0L357.9,95.3L357.7,96.4L356.8,96.9L357.5,97.9L355.9,98.8L353.5,98.8L350.5,99.2L349.6,98.9L348.5,99.7L346.8,99.5L345.6,100.2L344.6,99.8L347.2,98.0L348.8,97.6L346.1,97.3L345.5,96.6L347.4,96.1L346.4,95.1L346.8,94.0L349.4,94.2L349.7,93.2L348.5,92.0L346.3,91.7L345.9,91.3L346.5,90.5L345.9,90.0L345.0,90.8L344.9,89.1L344.0,88.3L344.6,86.5L346.0,85.0L347.4,85.2Z M343.9,93.4L344.2,94.6L342.8,96.2L339.7,97.2L337.2,96.9L338.6,95.1L337.7,93.3L340.1,92.0L341.5,91.2L343.0,91.1L344.9,92.2Z M329.1,71.4L328.7,72.5L330.7,73.7L328.4,75.1L323.3,76.2L321.8,76.6L319.5,76.3L314.5,75.8L316.2,75.0L312.4,74.1L315.5,73.8L315.4,73.3L311.7,72.9L312.9,71.7L315.6,71.5L318.4,72.7L321.1,71.7L323.3,72.2L326.2,71.3Z M271.9,43.2L277.8,42.1L284.1,42.2L286.3,41.6L292.6,41.4L306.8,41.6L317.9,43.0L314.6,43.7L307.8,43.8L298.3,43.9L299.2,44.3L305.4,44.1L310.8,44.7L314.3,44.1L315.7,44.8L313.8,45.8L318.3,45.1L326.9,44.4L332.2,44.8L333.2,45.5L326.0,46.8L325.0,47.2L319.3,47.5L323.4,47.6L321.4,48.8L319.9,50.0L320.0,51.9L322.1,53.0L319.3,53.1L316.4,53.7L319.7,54.6L320.1,56.1L318.2,56.2L320.5,57.7L316.6,57.9L318.6,58.6L318.1,59.2L315.5,59.4L313.1,59.4L315.3,60.6L315.3,61.4L311.8,60.7L310.9,61.2L313.3,61.6L315.6,62.7L316.3,64.1L313.1,64.4L311.7,63.7L309.6,62.7L310.2,63.9L308.1,64.8L312.8,64.9L315.2,65.0L310.5,66.5L305.6,67.9L300.5,68.5L298.5,68.5L296.7,69.2L294.2,71.0L290.4,72.2L289.2,72.3L286.8,72.7L284.2,73.1L282.7,74.2L282.7,75.4L281.8,76.6L278.9,78.0L279.6,79.3L278.8,80.8L277.9,82.5L275.4,82.6L272.8,81.2L269.2,81.2L267.5,80.2L266.3,78.5L263.3,76.3L262.4,75.2L262.1,73.6L259.7,72.0L260.3,70.7L259.1,70.1L260.9,68.1L263.5,67.4L264.2,66.7L264.6,65.3L262.6,66.0L261.6,66.2L260.0,66.5L257.8,65.9L257.7,64.7L258.4,63.8L260.1,63.8L263.7,64.2L260.6,63.1L259.0,62.5L257.3,62.8L255.8,62.3L257.8,60.7L256.7,60.1L255.3,58.9L253.2,57.0L250.9,56.3L250.9,55.6L246.1,54.6L242.4,54.4L237.6,54.5L233.3,54.7L231.3,54.1L228.2,53.0L232.8,52.5L236.4,52.3L228.8,51.9L224.8,51.2L225.0,50.5L231.8,49.7L238.3,48.8L239.0,48.2L234.2,47.6L235.7,46.9L241.9,45.7L244.4,45.5L243.7,44.7L247.9,44.2L253.4,44.0L258.8,43.9L260.8,44.5L265.5,43.5L269.7,44.2L272.2,44.3L275.9,44.9L271.7,43.9Z M201.3,59.7L202.7,60.8L204.3,59.4L208.8,58.7L211.8,60.5L211.6,61.6L215.1,61.1L216.8,60.4L220.7,61.3L223.1,62.1L223.4,62.9L226.7,62.5L228.5,63.6L232.8,64.3L234.4,65.0L236.0,66.6L232.8,67.5L237.0,68.6L239.8,69.0L242.3,70.6L245.1,70.7L244.6,71.9L241.4,73.9L239.3,73.2L236.5,71.5L234.2,71.7L234.0,72.7L235.8,73.7L238.2,74.6L239.0,75.0L240.1,76.7L239.5,78.0L237.3,77.5L232.8,76.1L235.3,77.6L237.2,78.7L237.4,79.3L232.6,78.6L228.8,77.6L226.7,76.7L227.3,76.2L224.7,75.4L222.1,74.5L222.1,75.0L217.0,75.3L215.5,74.7L216.6,73.4L220.0,73.4L223.6,73.2L223.0,72.5L223.7,71.7L225.9,70.0L225.4,69.2L224.8,68.6L222.1,67.7L218.5,67.2L219.6,66.7L217.7,65.6L216.1,65.5L214.7,64.9L213.8,65.4L210.6,65.7L204.1,65.3L200.4,64.8L197.5,64.5L196.0,63.9L197.9,63.1L195.3,63.1L194.8,61.3L196.1,59.8L198.0,59.0L202.6,58.6Z M150.4,59.4L152.2,59.8L151.4,60.6L155.3,60.1L157.8,60.9L159.8,60.1L161.4,60.6L162.9,62.3L163.8,61.6L162.5,59.8L164.1,59.6L165.8,59.8L167.8,60.6L168.9,62.3L169.5,63.5L172.4,64.3L175.7,65.2L175.5,66.0L172.6,66.1L173.7,66.8L173.1,67.4L169.9,67.1L166.8,66.7L164.8,66.8L161.4,67.3L156.9,67.6L153.8,67.8L152.8,66.9L150.4,66.5L148.8,66.7L146.6,65.3L147.8,65.1L150.5,64.8L153.0,64.9L155.4,64.6L151.9,64.2L148.1,64.3L145.6,64.3L144.7,63.6L148.8,62.9L146.1,63.0L143.0,62.5L144.5,61.2L145.7,60.5Z M132.5,61.7L136.4,63.3L141.0,62.8L142.3,61.4L145.1,60.0L150.2,59.1L148.1,58.1L145.4,57.7L139.2,57.4L133.4,57.7L133.7,59.3L131.4,60.7Z M209.5,57.5L207.2,57.3L202.1,57.5L198.4,57.6L195.6,57.3L190.9,56.8L190.2,55.8L190.0,55.0L188.2,54.2L184.6,54.0L182.5,53.4L183.2,52.7L186.8,52.8L188.8,53.4L192.3,53.4L193.8,54.0L193.4,54.6L195.5,55.0L196.6,55.4L199.0,55.5L201.6,55.7L204.4,55.3L208.0,55.1L210.9,55.3L212.8,55.9L213.2,56.6L212.1,57.1Z M188.7,56.5L187.8,57.2L185.2,57.1L183.0,56.6L184.0,55.8L186.5,55.4L188.1,56.0Z M233.3,42.4L238.1,42.5L241.9,42.7L245.1,43.2L245.0,43.7L240.7,44.4L236.4,44.8L234.8,45.2L238.7,45.1L234.5,46.2L231.6,46.7L228.6,48.1L224.9,48.4L223.8,48.8L218.4,49.0L220.8,49.2L219.6,49.5L221.1,50.3L219.4,51.0L216.6,51.4L215.8,52.1L213.3,52.6L213.6,53.0L216.6,53.0L216.6,53.4L211.9,54.4L207.3,54.0L202.1,54.2L199.4,54.0L196.1,53.9L195.8,53.1L199.1,52.7L198.2,51.4L199.3,51.3L204.1,52.1L201.6,51.0L198.8,50.6L200.2,49.9L203.4,49.5L203.9,48.9L201.3,48.2L200.6,47.3L205.4,47.4L206.8,47.6L209.6,47.0L205.6,46.8L199.4,46.9L196.3,46.3L194.8,45.6L192.7,45.1L192.3,44.5L195.0,44.1L197.0,44.1L200.5,43.8L203.1,43.2L205.3,43.2L207.3,43.7L208.6,42.8L210.9,42.5L214.1,42.3L219.6,42.3L220.5,42.4L225.6,42.1L229.5,42.3Z M200.4,48.4L202.6,48.9L200.1,49.5L196.9,50.8L193.7,50.9L190.0,50.7L188.1,50.0L188.2,49.3L189.6,48.9L186.3,48.9L184.4,48.3L183.2,47.5L184.5,46.7L185.7,46.2L187.5,46.1L186.7,45.7L190.9,45.6L193.1,46.5L196.1,46.9L199.0,47.2Z M162.8,54.4L163.5,55.0L165.1,54.7L167.0,54.8L167.3,55.7L166.2,56.5L160.2,56.8L155.7,57.5L153.0,57.6L152.8,57.0L156.5,56.2L148.4,56.4L146.0,56.1L148.4,54.4L150.1,53.9L155.1,54.5L158.2,55.5L161.3,55.7L158.8,54.0L160.4,53.4L162.2,53.6Z M181.4,54.3L181.5,55.2L180.7,56.5L177.7,56.7L175.8,56.4L175.9,55.4L173.0,55.5L172.8,54.2L174.8,54.2L177.4,53.6L179.9,53.7Z M176.8,58.5L178.9,58.9L182.1,58.7L182.5,59.2L180.9,60.0L183.5,60.8L183.2,62.3L180.3,63.0L178.6,62.8L177.4,62.2L173.0,60.8L173.0,60.3L176.6,60.5L174.7,59.4Z M189.5,60.4L187.6,61.7L185.5,61.6L184.4,60.1L184.5,59.2L185.4,58.5L187.2,58.0L190.9,58.1L194.2,58.5L191.6,60.0Z M180.6,65.0L182.4,65.5L183.5,65.8L185.1,66.8L184.0,67.4L181.6,66.9L180.2,67.1L177.8,66.3L179.3,65.7Z M203.7,72.8L204.1,73.6L205.0,73.3L206.0,73.7L207.9,74.3L210.0,74.9L210.1,75.7L211.4,75.6L212.7,76.2L211.1,76.7L208.4,76.3L207.4,75.5L205.6,76.4L203.1,77.3L202.5,76.3L200.1,76.5L201.6,75.6L201.9,74.3L202.5,72.6Z M171.2,49.2L176.0,49.9L177.9,51.4L175.1,51.3L172.1,50.7L168.2,50.6L169.9,50.0L167.6,49.0Z M136.8,54.6L139.8,53.2L143.5,52.1L146.2,52.1L148.6,52.0L148.5,53.2L147.0,53.9L145.4,53.9L142.1,54.7L139.2,54.9Z M153.4,51.8L154.9,51.2L157.3,51.0L159.9,51.3L159.3,51.8L156.0,52.3L153.4,51.8Z M255.3,98.9L254.1,100.4L255.3,99.8L256.4,100.2L255.8,100.8L257.4,101.3L258.2,100.9L260.0,101.4L259.4,102.7L260.7,102.4L260.9,103.3L261.4,104.4L260.7,105.9L259.9,106.0L258.7,105.7L259.1,104.2L258.6,104.0L256.6,105.5L255.5,105.5L256.8,104.7L255.1,104.2L253.1,104.3L249.7,104.3L249.4,103.8L250.5,103.2L249.8,102.7L251.3,101.6L253.1,98.8L254.2,97.9L255.7,97.3L256.5,97.3L256.2,97.8Z M127.1,98.8L128.9,99.1L130.0,99.4L131.7,99.6L133.2,101.0L134.9,101.7L135.7,102.7L134.8,102.9L131.9,102.1L131.3,101.5L129.7,100.9L129.4,100.4L127.6,100.1L126.9,99.2Z M118.5,92.8L119.3,93.1L121.0,92.9L120.5,94.9L122.1,96.3L121.3,96.3L120.3,95.5L119.6,94.7L118.7,94.2L118.4,93.4Z M208.9,146.9L210.4,147.0L211.8,147.0L213.5,147.6L214.2,148.2L215.8,148.0L216.5,148.4L218.0,149.5L219.1,150.3L219.7,150.3L220.7,150.6L220.6,151.1L221.9,151.2L223.2,151.9L223.0,152.3L221.8,152.6L220.7,152.6L219.4,152.5L216.9,152.7L218.1,151.7L217.4,151.3L216.2,151.1L215.6,150.6L215.2,149.6L214.2,149.7L212.5,149.2L212.0,148.9L209.7,148.6L209.0,148.3L209.7,147.8L208.0,147.7L206.7,148.6L206.0,148.7L205.7,149.1L204.8,149.3L204.1,149.1L205.0,148.6L205.4,147.9L206.2,147.6L207.1,147.2Z M227.6,152.9L227.8,152.6L229.2,152.6L230.3,153.1L230.7,153.0L231.1,153.7L232.0,153.6L232.0,154.1L232.8,154.2L233.6,154.8L233.0,155.5L232.1,155.2L231.3,155.2L230.7,155.2L230.4,155.5L229.7,155.6L229.5,155.2L228.9,155.4L228.2,156.6L227.7,156.3L227.6,155.8L226.4,155.5L225.6,155.6L224.5,155.5L223.7,155.9L222.7,155.3L222.9,154.8L224.5,155.0L225.9,155.1L226.5,154.7L225.7,154.0L225.7,153.3L224.6,153.0L225.0,152.6L226.1,152.6Z M217.2,155.1L218.4,155.2L219.3,155.6L219.6,156.1L218.4,156.1L217.9,156.4L216.9,156.2L215.8,155.5L216.1,155.1Z M237.3,155.0L238.2,155.2L238.5,155.5L238.0,155.9L236.7,155.9L235.7,156.0L235.5,155.3L235.8,155.0Z M381.8,48.4L382.4,47.7L385.1,47.7L387.3,48.3L393.1,49.6L388.7,50.3L387.7,51.6L386.1,51.9L385.3,53.3L383.1,53.4L379.3,52.3L380.9,51.7L378.3,51.2L374.8,49.8L373.4,48.4L378.3,47.8L379.3,48.4Z M398.8,51.5L394.8,52.2L391.7,51.8L392.9,51.4L391.8,50.8L395.5,50.5L396.2,51.1Z M446.2,61.7L448.1,61.3L448.0,60.4L451.5,58.9L449.9,58.7L454.1,57.1L453.6,56.4L457.6,55.4L463.5,54.3L469.4,54.0L472.4,53.3L475.9,53.1L477.1,53.8L475.9,54.4L469.6,55.2L464.2,56.0L458.7,57.7L456.1,59.4L453.3,61.1L453.6,62.5L457.0,64.0L456.0,64.1L450.2,63.9L449.7,63.1L446.5,62.7Z M382.4,120.6L381.8,122.0L382.1,122.5L381.7,123.4L380.4,122.8L379.4,122.6L377.0,121.7L377.2,120.8L379.3,121.0L381.1,120.8Z M371.2,115.4L372.3,116.7L372.1,119.0L371.2,118.9L370.5,119.4L369.9,119.0L369.8,116.9L369.4,115.9L370.4,116.0Z M371.9,113.8L371.3,115.1L370.5,114.8L370.1,113.6L370.4,113.0L371.6,112.3Z M397.0,125.0L397.9,125.6L399.3,125.5L400.6,125.6L401.6,125.7L401.3,126.3L398.8,126.4L396.6,125.8Z M413.0,126.0L413.4,125.6L414.7,125.6L416.3,125.1L415.1,125.8L415.2,126.3L413.4,127.0L412.6,126.8L412.2,126.1Z M34.0,333.6L60.0,333.8L79.6,334.0L81.5,330.0L78.5,325.5L73.8,321.8L82.0,320.8L94.0,319.6L115.0,319.2L132.7,318.6L150.0,317.6L169.3,316.7L174.0,315.4L176.7,313.0L180.0,311.6L178.5,313.2L184.0,313.9L196.3,314.4L210.3,313.9L216.4,313.0L220.0,311.5L226.0,312.3L231.0,312.0L232.3,310.0L231.0,307.5L233.0,305.1L235.7,303.4L240.0,301.6L245.3,299.4L250.6,297.3L254.0,296.4L254.4,298.1L248.8,300.4L243.6,302.5L240.0,304.6L239.2,306.9L243.6,308.7L247.0,311.3L248.0,314.8L245.3,318.3L240.0,320.0L235.7,321.3L243.6,321.4L254.0,322.1L264.6,323.5L275.0,324.4L280.0,325.0L287.0,324.4L294.0,322.1L302.8,320.0L313.3,316.9L323.8,314.4L332.6,313.0L336.0,311.3L341.3,311.6L350.0,310.9L355.3,311.6L362.3,309.9L371.1,309.2L385.1,309.5L395.0,310.0L405.5,308.7L415.1,306.9L423.0,308.7L430.0,306.0L440.6,304.6L445.8,302.5L452.8,302.2L459.8,304.3L468.6,305.1L477.3,306.0L480.8,309.9L487.9,308.1L496.6,305.7L505.4,303.9L515.0,303.2L527.5,303.0L538.0,302.0L548.5,303.4L555.5,302.0L567.8,303.4L580.0,302.5L585.3,303.7L588.8,302.2L601.1,302.5L611.6,304.2L618.6,306.2L630.0,307.3L643.7,310.0L651.0,311.0L658.1,312.0L655.5,314.0L648.1,316.2L644.5,318.4L646.0,322.0L649.6,323.5L643.7,324.2L639.3,326.4L641.5,329.4L648.1,331.6L658.4,332.6L678.0,333.5L678.0,348.0L34.0,348.0Z M33.0,67.4L37.0,67.6L42.3,68.1L47.0,69.4L52.8,71.6L50.5,73.6L47.5,75.1L44.0,74.0L40.5,73.4L37.0,73.9L33.0,74.0Z"/>
<path class="water" d="M442.1,106.4L443.6,106.0L445.8,105.2L447.2,105.7L449.0,105.6L449.4,106.7L449.0,108.4L447.5,108.1L446.0,108.4L445.9,109.7L444.2,109.5L444.3,110.1L445.2,110.5L446.0,112.1L448.1,112.7L448.4,113.3L448.0,114.0L448.1,114.4L448.6,115.6L448.8,114.3L450.3,113.8L450.8,114.8L450.3,116.4L448.8,116.0L448.4,117.5L449.6,117.6L449.2,118.8L450.5,119.4L450.3,121.2L450.6,122.4L450.4,122.8L447.7,123.3L445.1,123.0L443.9,122.1L442.2,121.8L441.7,120.5L441.6,119.6L442.3,119.2L442.6,118.6L442.9,117.2L444.3,117.1L443.8,116.6L443.0,116.5L442.1,115.3L441.1,114.4L439.2,112.3L439.4,111.2L437.8,109.5L439.5,107.7L441.3,107.4L442.1,106.4Z M458.7,107.8L460.5,106.6L462.5,106.2L463.4,106.2L464.1,108.5L463.0,109.9L461.8,110.9L459.6,111.3L458.4,110.0L458.7,107.8Z M411.3,187.8L413.1,186.6L415.1,187.0L415.6,188.9L414.5,191.1L413.3,191.8L411.5,191.5L411.2,189.4Z"/>
<path class="lk" d="M191.4,105.9L193.7,105.5L195.9,103.8L198.3,102.5L201.7,102.4L204.2,103.8L204.7,106.2L202.2,106.0L199.8,106.2L198.0,105.5L198.7,104.6L196.4,105.7L194.3,106.0Z M199.1,114.6L200.5,114.7L201.7,113.2L201.5,110.6L203.1,108.8L204.0,107.6L202.8,107.1L200.8,107.4L199.4,108.6L198.9,111.4Z M204.7,107.3L206.7,106.9L209.3,106.9L211.7,107.3L212.9,109.0L210.6,109.5L209.9,111.4L208.6,112.3L208.1,110.7L206.0,111.1L207.0,109.0L206.7,108.3Z M206.9,114.4L208.5,115.1L210.8,114.4L213.3,113.5L214.9,112.7L213.3,112.5L212.0,113.0L209.7,113.5L207.8,114.1Z M213.3,111.8L215.4,111.8L218.2,111.8L219.6,111.1L219.1,110.4L217.0,110.7L214.3,111.1Z M539.0,97.3L540.9,97.5L543.6,95.9L546.6,94.3L549.3,91.7L550.0,90.2L548.7,90.2L547.7,92.1L544.8,94.3L542.2,95.6Z M191.8,187.8L193.0,187.8L193.0,188.9L191.8,188.9Z M215.5,143.2L216.5,143.2L216.5,144.2L215.5,144.2Z"/>
<path class="blob" d="M214.9,93.1L216.2,92.1L218.8,92.3L221.0,94.0L221.9,95.6L220.6,96.2L218.8,95.3L217.1,94.9L215.3,94.4Z M217.1,97.5L218.8,96.6L220.6,97.1L219.7,98.4L218.8,100.6L218.8,103.2L218.0,104.5L216.6,104.1L216.0,101.9L216.2,99.3Z M222.9,97.1L225.4,96.2L228.9,97.1L230.2,98.8L228.5,100.1L227.1,101.5L225.8,101.0L225.0,99.3L223.5,98.6Z M225.0,104.1L227.1,102.9L229.8,101.9L232.4,100.8L235.0,100.1L234.6,100.8L231.5,102.1L228.9,103.2L226.3,104.8L225.0,105.0Z M227.1,83.9L228.9,83.9L228.9,84.8L227.1,84.8Z"/>
</g>
<rect x="37" y="117.8" width="139.2" height="225.6" fill="#dde6e7" fill-opacity="0.52"/>
<rect x="352" y="255.3" width="167.3" height="43.8" fill="#eef2f4" fill-opacity="0.93"/>
<path d="M35.8,345 V30.7 H675.5 V345" fill="none" stroke="#000" stroke-width="2.2"/>
<path d="M34.6,344.6 H676.7" stroke="#4a4a4a" stroke-width="1" fill="none"/>
<path class="tk" d="M88.7,31.5V36.8"/>
<path class="tk" d="M141.9,31.5V36.8"/>
<path class="tk" d="M195.2,31.5V36.8"/>
<path class="tk" d="M248.4,31.5V36.8"/>
<path class="tk" d="M301.6,31.5V36.8"/>
<path class="tk" d="M354.9,31.5V36.8"/>
<path class="tk" d="M408.1,31.5V36.8"/>
<path class="tk" d="M461.4,31.5V36.8"/>
<path class="tk" d="M514.6,31.5V36.8"/>
<path class="tk" d="M567.9,31.5V36.8"/>
<path class="tk" d="M621.1,31.5V36.8"/>
<text class="ax" x="35.6" y="25" text-anchor="middle">-180</text>
<text class="ax" x="88.9" y="25" text-anchor="middle">-150</text>
<text class="ax" x="142.1" y="25" text-anchor="middle">-120</text>
<text class="ax" x="195.3" y="25" text-anchor="middle">-90</text>
<text class="ax" x="248.6" y="25" text-anchor="middle">-60</text>
<text class="ax" x="301.8" y="25" text-anchor="middle">-30</text>
<text class="ax" x="355.7" y="25" text-anchor="middle">0</text>
<text class="ax" x="408.9" y="25" text-anchor="middle">30</text>
<text class="ax" x="462.2" y="25" text-anchor="middle">60</text>
<text class="ax" x="515.4" y="25" text-anchor="middle">90</text>
<text class="ax" x="568.7" y="25" text-anchor="middle">120</text>
<text class="ax" x="621.9" y="25" text-anchor="middle">150</text>
<text class="ax" x="675.2" y="25" text-anchor="middle">180</text>
<text class="ax" x="355.4" y="9.8" text-anchor="middle" style="letter-spacing:0.65px">Longitude (°)</text>
<path class="tk" d="M28.6,82.7H35"/>
<text class="ax" x="29.2" y="87.0" text-anchor="end">60</text>
<path class="tk" d="M28.6,135.0H35"/>
<text class="ax" x="29.2" y="139.3" text-anchor="end">30</text>
<path class="tk" d="M28.6,187.3H35"/>
<text class="ax" x="29.2" y="191.6" text-anchor="end">0</text>
<path class="tk" d="M28.6,239.6H35"/>
<text class="ax" x="29.2" y="243.9" text-anchor="end">-30</text>
<path class="tk" d="M28.6,291.9H35"/>
<text class="ax" x="29.2" y="296.2" text-anchor="end">-60</text>
<text class="ax" transform="translate(10.2,189) rotate(-90)" text-anchor="middle" style="letter-spacing:0.67px">Latitude (°)</text>
<text class="pl" x="41.5" y="49.2">A</text>
<text class="pl" x="41.5" y="361.3">B</text>
<text class="pl" x="41.5" y="448">C</text>
<text class="site" x="39.6" y="124.8" font-weight="bold" style="font-size:9.4px">Sites</text>
<text class="site" x="39.6" y="133.6">1. South Atlantic</text>
<text class="site" x="39.6" y="142.3">2. Songliao Basin</text>
<text class="site" x="39.6" y="150.8">3. Western Interior Seaway</text>
<text class="site" x="39.6" y="159.8">4. Southern Vocontian Basin</text>
<text class="site" x="39.6" y="168.5">5. Shine Khudag type section</text>
<text class="site" x="39.6" y="178.0">6. La Cluse, Subalpine Basin</text>
<text class="site" x="39.6" y="187.2">7. Vocontian Basin</text>
<text class="site" x="39.6" y="195.7">8. Latemar Italy</text>
<text class="site" x="40.6" y="205.5">9. Daxiakou section</text>
<text class="site" x="39.6" y="215.6">10. Marsden Bay, Sunderland</text>
<text class="site" x="39.6" y="225.2">11/12. Delaware Basin</text>
<text class="site" x="39.6" y="235.0">13. Sydney Basin</text>
<text class="site" x="39.6" y="245.2">14. Rio do Sul of Brazil</text>
<text class="site" x="39.6" y="255.4">15. Itu of Brazil</text>
<text class="site" x="39.6" y="266.0">16. Río Francia of Argentina</text>
<text class="site" x="39.6" y="276.8">17. Pennine Basin</text>
<text class="site" x="39.6" y="287.7">18. Bridger Ranger, Bozeman</text>
<text class="site" x="39.6" y="298.5">19. Rhenohercynian Basin</text>
<text class="site" x="39.6" y="308.7">20. Denay Limestone, Nevada</text>
<text class="site" x="39.6" y="318.9">21. Pod Barrandovem, Prague</text>
<text class="site" x="39.6" y="328.9">22. Canning Basin</text>
<text class="site" x="39.6" y="338.7">23. House Range section, Utah</text>
<path class="tri" d="M359.9,257.2L364.6,266.3L355.2,266.3Z"/>
<circle class="cir" cx="359.9" cy="276.9" r="4.4"/>
<rect class="sq" x="355.6" y="287.6" width="8.6" height="8.6"/>
<text class="lg" x="367.2" y="265.3">with cycles at 1–10 kyr</text>
<text class="lg" x="368.8" y="280.1" style="letter-spacing:0.25px">with cycles at 4–6 kyr</text>
<text class="lg" x="368.6" y="295" style="letter-spacing:0.25px">This study with cycles at 4–6 kyr</text>
<circle class="cir" cx="176.2" cy="136.6" r="4.3"/>
<circle class="cir" cx="173.8" cy="132.5" r="4.3"/>
<path class="tri" d="M158.1,103.4L162.8,112.5L153.4,112.5Z"/>
<path class="tri" d="M146.5,115.2L151.2,124.3L141.8,124.3Z"/>
<path class="tri" d="M153.7,115.2L158.4,124.3L149.0,124.3Z"/>
<path class="tri" d="M173.8,128.0L178.5,137.1L169.1,137.1Z"/>
<text class="mk" x="162.9" y="109.6" text-anchor="start">18</text>
<text class="mk" x="130.4" y="116.6" text-anchor="start">20</text>
<text class="mk" x="159.3" y="123.5" text-anchor="start">23</text>
<text class="mk" x="176.3" y="128.3" text-anchor="start" style="letter-spacing:0.75px">11/12</text>
<text class="mk" x="174.1" y="151.9" text-anchor="start">3</text>
<circle class="cir" cx="351.6" cy="91.7" r="4.3"/>
<path class="tri" d="M351.3,88.3L356.0,97.4L346.6,97.4Z"/>
<circle class="cir" cx="375.1" cy="105.7" r="4.1"/>
<path class="tri" d="M363.0,96.3L367.7,105.4L358.3,105.4Z"/>
<path class="tri" d="M380.2,96.3L384.9,105.4L375.5,105.4Z"/>
<circle class="cir" cx="365.0" cy="109.3" r="4.3"/>
<path class="tri" d="M365.4,105.9L370.1,115.0L360.7,115.0Z"/>
<text class="mk" x="345.8" y="84.7" text-anchor="start">10</text>
<text class="mk" x="364.5" y="96.0" text-anchor="start">19</text>
<text class="mk" x="388.1" y="102.7" text-anchor="start">21</text>
<text class="mk" x="334.3" y="107.9" text-anchor="start">17</text>
<text class="mk" x="349.2" y="114.0" text-anchor="start">6</text>
<text class="mk" x="381.3" y="116.4" text-anchor="start">8</text>
<text class="mk" x="353.7" y="125.2" text-anchor="start">4</text>
<text class="mk" x="367.2" y="125.2" text-anchor="start">7</text>
<circle class="cir" cx="546.8" cy="109.3" r="4.3"/>
<circle class="cir" cx="551.8" cy="133.0" r="4.3"/>
<rect class="sq" x="573.9" y="103.2" width="8.2" height="8.2"/>
<text class="big" x="558.0" y="96.5" text-anchor="start">2. SK2</text>
<text class="mk" x="534.0" y="109.5" text-anchor="start">5</text>
<text class="mk" x="538.5" y="135.6" text-anchor="start">9</text>
<path class="tri" d="M232.4,184.1L237.1,193.2L227.7,193.2Z"/>
<text class="mk" x="238.5" y="195.1" text-anchor="start">16</text>
<circle class="cir" cx="266.7" cy="234.8" r="4.3"/>
<circle class="cir" cx="270.8" cy="227.8" r="4.3"/>
<text class="mk" x="262.1" y="220.6" text-anchor="start">15</text>
<text class="mk" x="244.5" y="238.6" text-anchor="start">14</text>
<rect class="sq" x="288.5" y="236.3" width="8.0" height="8.0"/>
<text class="big" x="257.7" y="263.6" text-anchor="start">1. DSDP-516F</text>
<path class="tri" d="M572.6,216.8L577.3,225.9L567.9,225.9Z"/>
<text class="mk" x="560.9" y="237.4" text-anchor="start">22</text>
<path class="tri" d="M623.3,241.3L628.0,250.4L618.6,250.4Z"/>
<text class="mk" x="628.3" y="250.3" text-anchor="start">13</text>
<path class="ice" d="M36.0,352.0L39.0,383.2L50.4,383.2L53.0,399.0L64.4,399.0L67.0,383.2L74.0,383.2L76.6,414.6L78.6,414.6L80.0,430.6L36.0,430.6Z M341.0,430.6L342.4,415.0L361.4,415.0L363.6,399.2L381.4,399.2L388.6,352.0L400.6,352.0L402.0,367.4L426.4,367.4L435.6,430.6Z M457.4,430.6L459.6,399.2L461.2,399.2L462.6,415.0L466.4,415.0L468.0,430.6Z M554.4,430.6L560.4,352.0L561.6,352.0L564.0,383.0L570.0,383.0L574.4,415.0L576.6,415.0L578.0,430.6Z"/>
<text class="rot" transform="translate(89.2,429.4) rotate(-90)">Cenozoic</text>
<text class="rot" transform="translate(389.2,429.0) rotate(-90)">Permo-</text>
<text class="rot" transform="translate(400.4,429.0) rotate(-90)">Carboniferous</text>
<text class="rot" transform="translate(478.2,429.6) rotate(-90)">Late Devonian</text>
<text class="rot" transform="translate(588.8,430.2) rotate(-90)">Late Ordovician</text>
<path d="M35,431H676" stroke="#3c3c3c" stroke-width="1.1" fill="none"/>
<path class="tk" d="M30,352.0H35"/>
<text class="ax" x="13" y="355.9" textLength="16.8" lengthAdjust="spacingAndGlyphs" style="font-size:11.2px;letter-spacing:0">40</text>
<path class="tk" d="M30,367.7H35"/>
<text class="ax" x="13" y="371.6" textLength="16.8" lengthAdjust="spacingAndGlyphs" style="font-size:11.2px;letter-spacing:0">50</text>
<path class="tk" d="M30,383.4H35"/>
<text class="ax" x="13" y="387.3" textLength="16.8" lengthAdjust="spacingAndGlyphs" style="font-size:11.2px;letter-spacing:0">60</text>
<path class="tk" d="M30,399.0H35"/>
<text class="ax" x="13" y="402.9" textLength="16.8" lengthAdjust="spacingAndGlyphs" style="font-size:11.2px;letter-spacing:0">70</text>
<path class="tk" d="M30,414.7H35"/>
<text class="ax" x="13" y="418.6" textLength="16.8" lengthAdjust="spacingAndGlyphs" style="font-size:11.2px;letter-spacing:0">80</text>
<path class="tk" d="M30,430.4H35"/>
<text class="ax" x="13" y="434.3" textLength="16.8" lengthAdjust="spacingAndGlyphs" style="font-size:11.2px;letter-spacing:0">90</text>
<text class="ax" transform="translate(9.4,391) rotate(-90)" text-anchor="middle" style="letter-spacing:0.73px">Ice extent (latitude/°)</text>
<circle class="cir" cx="149.2" cy="455.4" r="4.3"/>
<circle class="cir" cx="179.0" cy="455.4" r="4.3"/>
<circle class="cir" cx="332.6" cy="455.6" r="4.3"/>
<circle class="cir" cx="337.0" cy="455.6" r="4.3"/>
<circle class="cir" cx="394.0" cy="455.6" r="4.3"/>
<circle class="cir" cx="165.2" cy="472.6" r="4.3"/>
<circle class="cir" cx="219.6" cy="472.2" r="4.3"/>
<circle class="cir" cx="321.0" cy="472.4" r="4.3"/>
<circle class="cir" cx="336.0" cy="472.4" r="4.3"/>
<circle class="cir" cx="383.6" cy="472.4" r="4.3"/>
<rect class="sq" x="127.6" y="451.0" width="8.0" height="8.0"/>
<rect class="sq" x="131.0" y="469.4" width="8.0" height="8.0"/>
<path class="tri" d="M224.0,450.8L228.7,459.9L219.3,459.9Z"/>
<path class="tri" d="M353.6,451.2L358.3,460.3L348.9,460.3Z"/>
<path class="tri" d="M422.4,451.2L427.1,460.3L417.7,460.3Z"/>
<path class="tri" d="M494.0,451.2L498.7,460.3L489.3,460.3Z"/>
<path class="tri" d="M510.4,451.2L515.1,460.3L505.7,460.3Z"/>
<path class="tri" d="M643.0,451.8L647.7,460.9L638.3,460.9Z"/>
<path class="tri" d="M341.2,468.4L345.9,477.5L336.5,477.5Z"/>
<path class="tri" d="M403.0,468.4L407.7,477.5L398.3,477.5Z"/>
<path class="tri" d="M453.2,468.4L457.9,477.5L448.5,477.5Z"/>
<path class="tri" d="M498.0,468.4L502.7,477.5L493.3,477.5Z"/>
<path class="tri" d="M555.6,468.2L560.3,477.3L550.9,477.3Z"/>
<text class="mk" x="121.6" y="451.0" text-anchor="start">1</text>
<text class="mk" x="142.0" y="451.0" text-anchor="start">3</text>
<text class="mk" x="171.0" y="451.0" text-anchor="start">5</text>
<text class="mk" x="215.0" y="451.0" text-anchor="start">7</text>
<text class="mk" x="323.6" y="451.0" text-anchor="start">9</text>
<text class="mk" x="338.2" y="451.0" text-anchor="start">11</text>
<text class="mk" x="355.6" y="451.0" text-anchor="start">13</text>
<text class="mk" x="395.0" y="451.0" text-anchor="start">15</text>
<text class="mk" x="424.4" y="451.0" text-anchor="start">17</text>
<text class="mk" x="496.0" y="451.0" text-anchor="start">19</text>
<text class="mk" x="514.0" y="451.0" text-anchor="start">21</text>
<text class="mk" x="646.4" y="451.0" text-anchor="start">23</text>
<text class="mk" x="123.6" y="485.0" text-anchor="start">2</text>
<text class="mk" x="156.0" y="485.0" text-anchor="start">4</text>
<text class="mk" x="211.0" y="485.0" text-anchor="start">6</text>
<text class="mk" x="310.0" y="485.0" text-anchor="start">8</text>
<text class="mk" x="322.0" y="485.0" text-anchor="start">10</text>
<text class="mk" x="346.4" y="485.0" text-anchor="start">12</text>
<text class="mk" x="367.4" y="485.0" text-anchor="start">14</text>
<text class="mk" x="407.4" y="485.0" text-anchor="start">16</text>
<text class="mk" x="434.4" y="485.0" text-anchor="start">18</text>
<text class="mk" x="478.6" y="485.0" text-anchor="start">20</text>
<text class="mk" x="561.0" y="485.0" text-anchor="start">22</text>
<rect x="35.3" y="488.4" width="3.1" height="29.2" fill="#e6dca0"/>
<rect x="38.4" y="488.4" width="24.2" height="29.2" fill="#fff2bf"/>
<rect x="62.5" y="488.4" width="50.8" height="29.2" fill="#fde8da"/>
<rect x="113.3" y="488.4" width="92.2" height="29.2" fill="#d8edd4"/>
<rect x="205.5" y="488.4" width="67.7" height="29.2" fill="#b2e9f7"/>
<rect x="273.3" y="488.4" width="59.8" height="29.2" fill="#dbc8e0"/>
<rect x="333.1" y="488.4" width="55.6" height="29.2" fill="#f8d1c8"/>
<rect x="388.7" y="488.4" width="70.9" height="29.2" fill="#d0e6e8"/>
<rect x="459.6" y="488.4" width="71.3" height="29.2" fill="#f2e2d0"/>
<rect x="530.9" y="488.4" width="29.1" height="29.2" fill="#e8f4ee"/>
<rect x="560.0" y="488.4" width="49.2" height="29.2" fill="#b0e4de"/>
<rect x="609.2" y="488.4" width="65.7" height="29.2" fill="#dee8d8"/>
<rect x="35.3" y="517.6" width="78.0" height="28.4" fill="#fef9d6"/>
<rect x="113.3" y="517.6" width="219.8" height="28.4" fill="#d8eef8"/>
<rect x="333.1" y="517.6" width="341.8" height="28.4" fill="#e3ede3"/>
<path class="bd" d="M36,488.4H675 M36,517.6H675 M38.4,488.4V517.6 M62.5,488.4V517.6 M113.3,488.4V517.6 M205.5,488.4V517.6 M273.3,488.4V517.6 M333.1,488.4V517.6 M388.7,488.4V517.6 M459.6,488.4V517.6 M530.9,488.4V517.6 M560.0,488.4V517.6 M609.2,488.4V517.6 M113.3,517.6V546.0 M333.1,517.6V546.0"/>
<text class="per" x="158.5" y="507.5" style="letter-spacing:0.55px">Cretaceous</text>
<text class="per" x="238.8" y="507.5">Jurassic</text>
<text class="per" x="302.5" y="507.5">Triassic</text>
<text class="per" x="360.5" y="507.5">Permian</text>
<text class="per" x="424.2" y="507.5">Carbonif.</text>
<text class="per" x="495.0" y="507.5">Devonian</text>
<text class="per" x="546.0" y="507.5">Silu.</text>
<text class="per" x="585.0" y="507.5">Ordovi.</text>
<text class="per" x="642.0" y="507.5">Cambrian</text>
<text class="per" x="37.0" y="507.9" style="text-anchor:start;letter-spacing:0.8px">Neo.</text>
<text class="per" x="61.2" y="506.5" style="text-anchor:start;letter-spacing:0.28px">Paleoge.</text>
<text class="per" x="74.3" y="537">Cenozoic</text>
<text class="per" x="222" y="537">Mesozoic</text>
<text class="per" x="503.8" y="537">Paleozoic</text>
<path d="M35.8,344 V546.5 H675.7 V344" fill="none" stroke="#000" stroke-width="2.2"/>
<path class="tk" d="M153.5,547.5V551.6"/>
<text class="ax" x="153.8" y="569" text-anchor="middle">100</text>
<path class="tk" d="M271.8,547.5V551.6"/>
<text class="ax" x="272.1" y="569" text-anchor="middle">200</text>
<path class="tk" d="M390.0,547.5V551.6"/>
<text class="ax" x="390.3" y="569" text-anchor="middle">300</text>
<path class="tk" d="M508.2,547.5V551.6"/>
<text class="ax" x="508.5" y="569" text-anchor="middle">400</text>
<path class="tk" d="M626.4,547.5V551.6"/>
<text class="ax" x="626.7" y="569" text-anchor="middle">500</text>
<text class="ax" x="355.5" y="583.4" text-anchor="middle" style="letter-spacing:0.58px">Age (Ma)</text>
</svg>
</body>
</html>
